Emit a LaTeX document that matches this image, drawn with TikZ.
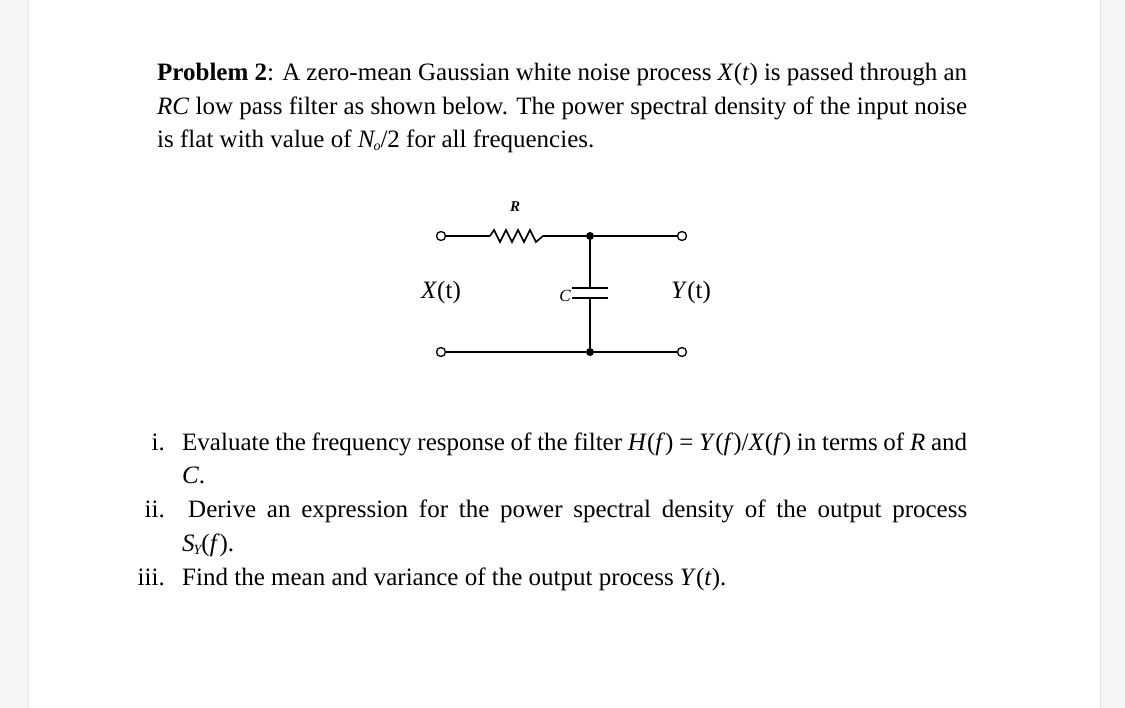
\documentclass[tikz,border=0pt]{standalone}
\usepackage{fontspec}
\setmainfont{Liberation Serif}
\usetikzlibrary{calc}
\begin{document}
\begin{tikzpicture}[x=1pt,y=-1pt,
  txt/.style={anchor=base west,inner sep=0pt,font=\fontsize{25}{28}\selectfont},
  lab/.style={anchor=base east,inner sep=0pt,font=\fontsize{25}{28}\selectfont},
  term/.style={circle,draw,line width=1.3pt,inner sep=0pt,minimum size=9pt,fill=white},
  wire/.style={line width=2pt},
  dot/.style={circle,fill,inner sep=0pt,minimum size=8pt}]
\useasboundingbox (0,0) rectangle (1125,708);
\fill[gray!8] (0,0) rectangle (28,708);
\fill[gray!8] (1100,0) rectangle (1125,708);
\draw[gray!20] (28,0)--(28,708) (1100,0)--(1100,708);
% header
\node[txt] (l1) at (157,81) {\makebox[810pt][s]{\textbf{Problem 2}: A zero-mean Gaussian white noise process \textit{X}(\textit{t}) is passed through an}};
\node[txt] (l2) at (157,115) {\makebox[810pt][s]{\textit{RC} low pass filter as shown below. The power spectral density of the input noise}};
\node[txt] (l3) at (157,148) {is flat with value of \textit{N\kern-1pt\raisebox{-3pt}{\fontsize{14}{15}\selectfont o}}/2 for all frequencies.};
% circuit
\node[term] (a) at (441,236) {};
\node[term] (b) at (441,352) {};
\node[term] (c) at (682,236) {};
\node[term] (d) at (682,352) {};
\node[dot] (j1) at (590,236) {};
\node[dot] (j2) at (590,352) {};
\coordinate (r1) at (490,236);
\coordinate (r2) at (543,236);
\coordinate (p1) at (590,288);
\coordinate (p2) at (590,298);
\draw[line width=1.4pt] (a)--(r1);
\draw[line width=1.6pt] (r1)--++(4,-6)--++(6,12)--++(6,-12)--++(6,12)--++(6,-12)--++(6,12)--++(6,-12)--++(6,12)--(r2);
\draw[wire] (r2)--(j1)--(c);
\draw[wire] (b)--(j2)--(d);
\draw[wire] (j1)--(p1);
\draw[wire] (p2)--(j2);
\draw[line width=2pt] ($(p1)+(-18,0)$)--($(p1)+(18,0)$);
\draw[line width=2pt] ($(p2)+(-18,0)$)--($(p2)+(18,0)$);
\node[inner sep=0pt,font=\fontsize{15}{16}\selectfont\bfseries\itshape] (R) at (515,207) {R};
\node[inner sep=0pt,font=\fontsize{17}{18}\selectfont\itshape] (C) at (565,296) {C};
\node[inner sep=0pt,font=\fontsize{25}{28}\selectfont] (X) at (441,292) {\textit{X}(t)};
\node[inner sep=0pt,font=\fontsize{25}{28}\selectfont] (Y) at (691,292) {\textit{Y}(t)};
% items
\node[lab] (i1) at (165,451) {i.};
\node[txt] (t1) at (182,451) {\makebox[785pt][s]{Evaluate the frequency response of the filter \textit{H}(\textit{f}) = \textit{Y}(\textit{f})/\textit{X}(\textit{f}) in terms of \textit{R} and}};
\node[txt] (t1b) at (182,484) {\textit{C}.};
\node[lab] (i2) at (165,518) {ii.};
\node[txt] (t2) at (188,518) {\makebox[779pt][s]{Derive an expression for the power spectral density of the output process}};
\node[txt] (t2b) at (182,551) {\textit{S\kern-1pt\raisebox{-3pt}{\fontsize{14}{15}\selectfont Y}}(\textit{f}).};
\node[lab] (i3) at (165,585) {iii.};
\node[txt] (t3) at (182,585) {Find the mean and variance of the output process \textit{Y}(\textit{t}).};
\end{tikzpicture}
\end{document}
